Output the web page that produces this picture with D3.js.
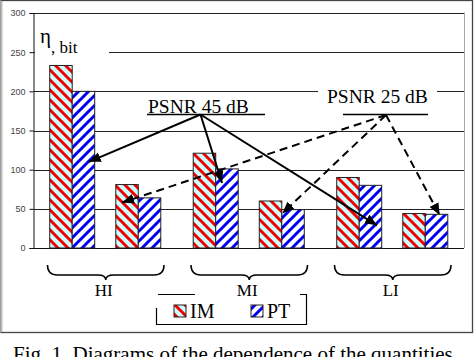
<!DOCTYPE html>
<html><head><meta charset="utf-8">
<script src="https://cdn.jsdelivr.net/npm/d3@7"></script>
<style>html,body{margin:0;padding:0;background:#fff;overflow:hidden}</style>
</head><body>
<svg id="c" width="474" height="357"></svg>
<script>
// ---- data ----
const groups = ["HI", "MI", "LI"];
const subCats = ["1", "2"];
const categories = ["HI-1", "HI-2", "MI-1", "MI-2", "LI-1", "LI-2"];
const imValues = [233, 81, 121, 60, 90, 44];
const ptValues = [200, 64, 101, 49, 80, 43];
const yTicks = [0, 50, 100, 150, 200, 250, 300];
const seriesNames = ["IM", "PT"];
// annotation targets: [category index, offset in bar widths from pair centre, value]
const psnr45Targets = [[0, 0.74, 110], [2, 0.28, 83], [4, 0.79, 29]];
const psnr25Targets = [[1, -0.72, 58], [3, 0.02, 44], [5, 0.64, 42]];

const svg = d3.select("#c");
const serif = "'Liberation Serif','Times New Roman',serif";
const sans = "'Liberation Sans',Arial,sans-serif";

const L = 33.5, R = 464, T = 13, B = 248;
const y = d3.scaleLinear().domain([0, 300]).range([B, T]);
const x0 = d3.scaleBand().domain(groups).range([L, R]).paddingInner(0).paddingOuter(0);
const x1 = d3.scalePoint().domain(subCats).range([0, x0.bandwidth()]).padding(0.586);
const barW = 22.5;
const cx = i => x0(groups[Math.floor(i / 2)]) + x1(subCats[i % 2]);

// patterns
const defs = svg.append("defs");
const pIM = defs.append("pattern").attr("id", "pIM").attr("patternUnits", "userSpaceOnUse")
  .attr("width", 10).attr("height", 10);
pIM.append("rect").attr("width", 10).attr("height", 10).attr("fill", "#ccffff");
pIM.append("path").attr("d", "M-3,7 L3,13 M-3,-3 L13,13 M7,-3 L13,3")
  .attr("stroke", "#f00000").attr("stroke-width", 3);
const pPT = defs.append("pattern").attr("id", "pPT").attr("patternUnits", "userSpaceOnUse")
  .attr("width", 10).attr("height", 10);
pPT.append("rect").attr("width", 10).attr("height", 10).attr("fill", "#ffffff");
pPT.append("path").attr("d", "M-3,3 L3,-3 M-3,13 L13,-3 M7,13 L13,7")
  .attr("stroke", "#0000f0").attr("stroke-width", 3);
defs.append("marker").attr("id", "ah").attr("markerUnits", "userSpaceOnUse")
  .attr("markerWidth", 14).attr("markerHeight", 12).attr("refX", 12).attr("refY", 5)
  .attr("orient", "auto")
  .append("path").attr("d", "M0,0 L12,5 L0,10 Z").attr("fill", "#000");

// outer frame
svg.append("rect").attr("x", 1).attr("y", 0.5).attr("width", 471.5).attr("height", 332)
  .attr("fill", "#fff").attr("stroke", "#444").attr("stroke-width", 1.3);
svg.append("line").attr("x1", 1.5).attr("x2", 1.5).attr("y1", 1).attr("y2", 332)
  .attr("stroke", "#bbb").attr("stroke-width", 2);
// plot right border
svg.append("line").attr("x1", R + 0.5).attr("x2", R + 0.5).attr("y1", T - 0.5).attr("y2", B)
  .attr("stroke", "#aaa");

// gridlines
svg.append("g").selectAll("line").data(yTicks.filter(d => d > 0)).join("line")
  .attr("x1", L).attr("x2", R).attr("y1", d => Math.round(y(d)) + 0.5).attr("y2", d => Math.round(y(d)) + 0.5)
  .attr("stroke", "#222").attr("stroke-width", 1);

// y axis
const yAxis = d3.axisLeft(y).tickValues(yTicks).tickSize(4).tickPadding(4);
const ga = svg.append("g").attr("transform", `translate(${L},0)`).call(yAxis);
ga.select(".domain").attr("stroke", "#111");
ga.selectAll(".tick line").attr("stroke", "#111");
ga.selectAll("text").attr("font-family", sans).attr("font-size", 9).attr("fill", "#444");
svg.append("line").attr("x1", L).attr("x2", R).attr("y1", B + 0.5).attr("y2", B + 0.5).attr("stroke", "#111");

// bars
const bars = svg.append("g");
bars.selectAll("rect.im").data(imValues).join("rect").attr("class", "im")
  .attr("x", (d, i) => cx(i) - barW).attr("width", barW)
  .attr("y", d => y(d)).attr("height", d => y(0) - y(d))
  .attr("fill", "url(#pIM)").attr("stroke", "#222").attr("stroke-width", 1);
bars.selectAll("rect.pt").data(ptValues).join("rect").attr("class", "pt")
  .attr("x", (d, i) => cx(i)).attr("width", barW)
  .attr("y", d => y(d)).attr("height", d => y(0) - y(d))
  .attr("fill", "url(#pPT)").attr("stroke", "#222").attr("stroke-width", 1);

// eta label with white box
svg.append("rect").attr("x", 35).attr("y", 28).attr("width", 74).attr("height", 30).attr("fill", "#fff");
const eta = svg.append("text").attr("x", 40).attr("y", 43).attr("font-family", serif).attr("fill", "#000");
eta.append("tspan").attr("font-size", 21).text("η");
eta.append("tspan").attr("font-size", 17).attr("dy", 10).text(", bit");

// PSNR 25 label with white box
svg.append("rect").attr("x", 318).attr("y", 84).attr("width", 119).attr("height", 24).attr("fill", "#fff");
svg.append("text").attr("x", 327).attr("y", 103).attr("font-family", serif).attr("font-size", 19.5)
  .attr("fill", "#000").text("PSNR 25 dB");
svg.append("line").attr("x1", 343).attr("x2", 428).attr("y1", 114.5).attr("y2", 114.5)
  .attr("stroke", "#000").attr("stroke-width", 1.6);

// PSNR 45 label
svg.append("text").attr("x", 148).attr("y", 112.5).attr("font-family", serif).attr("font-size", 19.5)
  .attr("fill", "#000").text("PSNR 45 dB");
svg.append("line").attr("x1", 147).attr("x2", 265).attr("y1", 114.5).attr("y2", 114.5)
  .attr("stroke", "#000").attr("stroke-width", 1.6);

// arrows
const o45 = [200.5, 114.5], o25 = [386, 115];
const arr = svg.append("g");
arr.selectAll("line.s").data(psnr45Targets).join("line").attr("class", "s")
  .attr("x1", o45[0]).attr("y1", o45[1])
  .attr("x2", d => cx(d[0]) + d[1] * barW).attr("y2", d => y(d[2]))
  .attr("stroke", "#000").attr("stroke-width", 2).attr("marker-end", "url(#ah)");
arr.selectAll("line.d").data(psnr25Targets).join("line").attr("class", "d")
  .attr("x1", o25[0]).attr("y1", o25[1])
  .attr("x2", d => cx(d[0]) + d[1] * barW).attr("y2", d => y(d[2]))
  .attr("stroke", "#000").attr("stroke-width", 2).attr("stroke-dasharray", "8,5")
  .attr("marker-end", "url(#ah)");

// braces and group labels
const bg = svg.append("g");
groups.forEach(g => {
  const x1b = x0(g) + 14, x2b = x0(g) + x0.bandwidth() - 13, xm = (x1b + x2b) / 2, y0 = 265;
  bg.append("path")
    .attr("d", `M${x1b},${y0} Q${x1b},${y0 + 10} ${x1b + 10},${y0 + 10} L${xm - 8},${y0 + 10} Q${xm},${y0 + 10} ${xm},${y0 + 15} Q${xm},${y0 + 10} ${xm + 8},${y0 + 10} L${x2b - 10},${y0 + 10} Q${x2b},${y0 + 10} ${x2b},${y0}`)
    .attr("fill", "none").attr("stroke", "#000").attr("stroke-width", 1.5);
  bg.append("text").attr("x", xm - 2).attr("y", 296).attr("text-anchor", "middle")
    .attr("font-family", serif).attr("font-size", 17).attr("fill", "#000").text(g);
});

// legend
svg.append("path").attr("d", "M158,294.5 H195 M156.5,308 V324.5 H306.5 V294.5 H300")
  .attr("fill", "none").attr("stroke", "#000").attr("stroke-width", 1.2);
const lg = svg.append("g");
const legX = [174, 251];
seriesNames.forEach((s, i) => {
  lg.append("rect").attr("x", legX[i]).attr("y", 305).attr("width", 12).attr("height", 12)
    .attr("fill", i === 0 ? "url(#pIM)" : "url(#pPT)").attr("stroke", "#222");
  lg.append("text").attr("x", legX[i] + 16).attr("y", 317.5).attr("font-family", serif)
    .attr("font-size", 20).attr("fill", "#000").text(s);
});

// caption
svg.append("text").attr("x", 13).attr("y", 361).attr("font-family", serif).attr("font-size", 21)
  .attr("fill", "#000").text("Fig. 1. Diagrams of the dependence of the quantities");
</script>
</body></html>
